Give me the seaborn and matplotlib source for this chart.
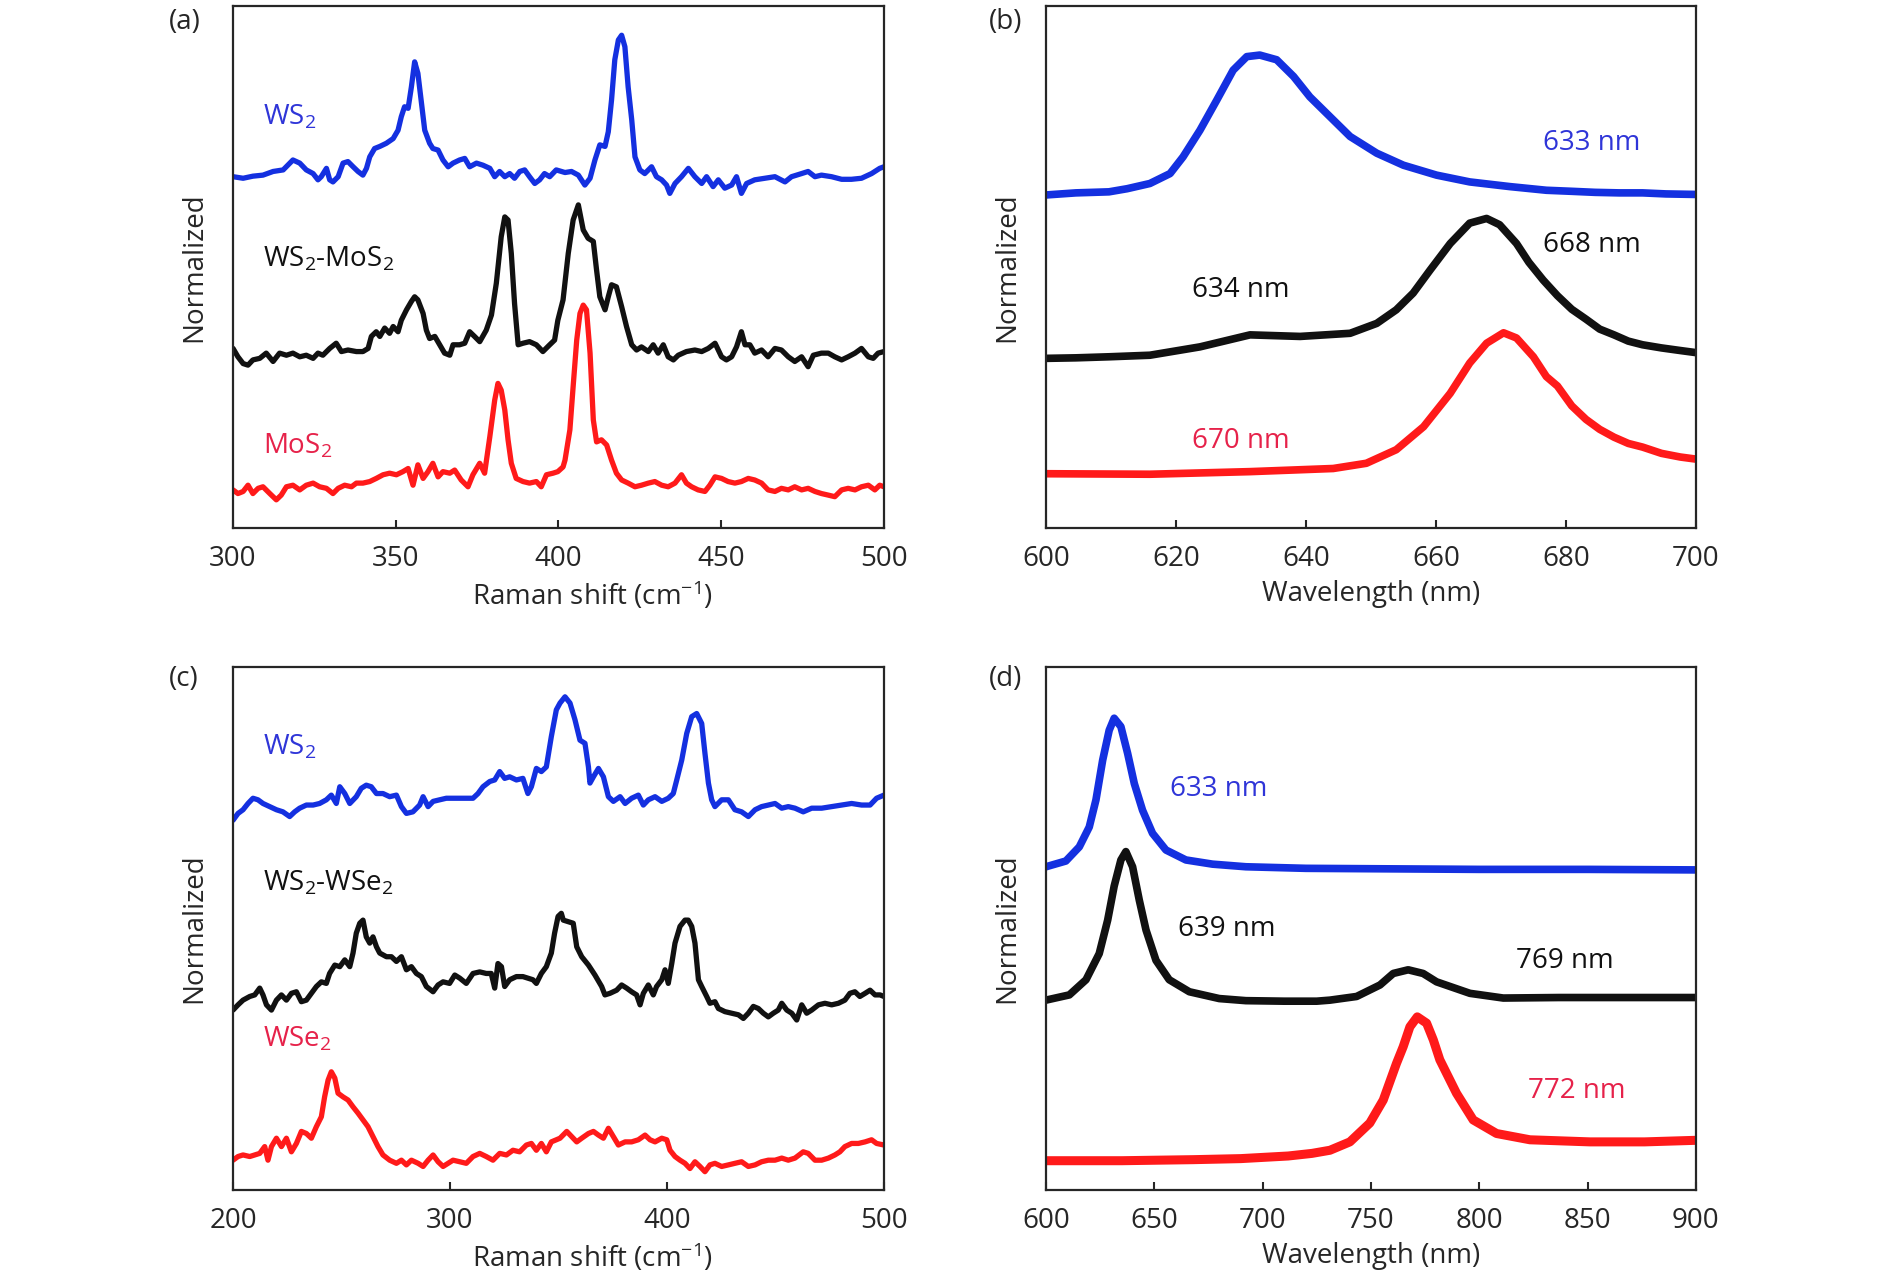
import numpy as np
import pandas as pd
import matplotlib
matplotlib.use('Agg')
import matplotlib.pyplot as plt
import seaborn as sns

# ---- (a) Raman, WS2 / WS2-MoS2 / MoS2  (x: cm-1, y: normalized + offset)
a_ws2 = [(300.0,67.3),(303.1,67.0),(306.1,67.4),(309.2,67.6),(312.3,68.3),(315.4,68.6),(318.4,70.5),(320.5,69.9),(322.5,68.6),(324.6,67.9),(326.1,66.7),(327.1,67.3),(328.7,68.9),(329.7,66.7),(330.7,66.3),(332.3,67.3),(333.8,69.9),(335.3,70.2),(336.9,69.2),(338.4,68.3),(339.9,67.6),(341.0,68.9),(342.0,71.1),(343.5,72.7),(345.1,73.1),(347.1,73.7),(349.2,74.6),(350.7,76.2),(351.7,78.8),(352.7,80.7),(353.8,80.4),(354.8,84.5),(355.8,89.3),(356.8,87.1),(357.9,81.4),(358.9,76.2),(360.4,73.7),(361.4,72.7),(363.0,72.4),(364.5,70.5),(366.1,69.2),(367.6,69.9),(369.6,70.5),(371.2,70.8),(372.7,69.2),(374.8,69.9),(376.8,69.5),(378.9,68.9),(380.4,67.3),(381.9,68.3),(383.5,67.3),(385.0,67.9),(386.5,67.0),(388.1,68.3),(389.6,68.6),(391.1,67.3),(392.7,66.0),(394.2,66.7),(395.7,67.9),(397.3,67.3),(399.3,68.6),(402.0,68.1),(404.0,68.3),(406.1,67.6),(408.1,65.7),(409.7,67.0),(411.2,70.5),(412.7,73.4),(414.3,73.1),(415.3,75.9),(416.3,82.0),(417.3,89.7),(418.4,93.5),(419.4,94.4),(420.4,92.2),(421.4,84.5),(422.5,78.2),(423.5,71.1),(425.0,68.6),(426.5,67.9),(428.6,69.2),(430.1,67.3),(431.7,66.7),(433.2,65.7),(434.2,64.1),(435.8,66.0),(437.8,67.3),(439.9,68.9),(441.9,67.3),(444.0,66.0),(445.5,67.3),(447.5,65.4),(449.1,66.7),(451.1,65.1),(453.2,65.7),(454.7,67.3),(456.2,64.1),(457.8,66.0),(460.3,66.7),(463.4,67.0),(466.5,67.3),(469.6,66.3),(471.6,67.3),(474.7,67.9),(476.7,68.3),(478.8,67.3),(480.8,67.6),(483.9,67.3),(487.0,66.8),(490.0,66.8),(493.1,67.0),(496.2,67.9),(498.7,68.9),(500.0,69.2)]

a_het = [(300.0,34.4),(301.5,32.8),(303.1,31.5),(304.6,31.2),(306.1,32.2),(308.2,32.5),(310.2,33.5),(312.3,31.9),(314.3,33.5),(316.4,33.1),(318.4,33.5),(320.5,32.8),(322.5,33.1),(324.6,32.5),(326.1,33.5),(327.6,33.1),(329.7,34.4),(331.7,35.4),(333.3,33.8),(335.3,34.1),(337.9,33.8),(339.9,33.8),(341.5,34.4),(342.5,36.7),(344.0,37.6),(345.1,36.7),(346.6,38.3),(348.1,37.3),(349.2,38.6),(350.7,37.6),(351.7,39.8),(353.3,41.8),(354.8,43.4),(355.8,44.3),(356.8,43.7),(358.4,41.1),(359.4,37.9),(360.4,36.3),(362.0,36.7),(363.5,35.1),(365.0,33.5),(366.6,33.1),(367.6,35.1),(369.6,35.1),(371.2,35.4),(372.7,37.6),(374.2,36.7),(375.8,35.7),(377.8,37.9),(379.4,40.8),(380.9,46.9),(382.4,55.8),(383.5,59.6),(384.5,59.0),(385.5,52.6),(386.5,43.0),(387.6,35.1),(389.1,35.4),(391.1,35.7),(393.2,35.1),(395.2,33.8),(397.3,35.1),(398.8,36.0),(399.8,39.8),(401.4,43.7),(403.0,52.6),(404.5,59.0),(406.1,61.9),(407.6,57.1),(409.1,55.5),(410.7,54.9),(411.7,49.4),(412.7,44.3),(414.3,41.8),(415.3,44.3),(416.3,46.6),(417.8,46.2),(419.4,42.4),(420.9,38.6),(422.5,35.1),(424.0,34.1),(425.5,34.7),(427.6,33.8),(429.1,35.1),(430.6,33.5),(432.2,35.1),(433.7,32.8),(435.3,32.2),(436.8,33.1),(439.3,33.8),(441.9,34.1),(444.0,33.8),(446.0,34.4),(448.1,35.4),(450.1,32.8),(451.6,32.2),(453.2,32.8),(454.7,34.7),(456.2,37.6),(457.3,35.1),(458.8,35.1),(460.3,33.5),(462.4,34.1),(464.4,32.8),(466.5,34.4),(468.5,34.1),(470.6,32.8),(472.6,31.9),(474.7,32.8),(476.7,30.9),(478.3,33.1),(480.8,33.5),(482.9,33.5),(484.9,32.8),(487.0,32.2),(489.0,32.8),(491.1,33.5),(493.1,34.4),(495.2,32.8),(496.7,32.5),(498.2,33.5),(500.0,33.8)]

a_mos2 = [(300.0,7.3),(301.5,6.6),(303.1,7.0),(304.6,8.2),(306.1,6.6),(307.7,7.6),(309.2,7.9),(311.3,6.6),(313.3,5.4),(314.8,6.3),(316.4,7.9),(318.4,8.2),(320.5,7.3),(322.5,8.2),(324.6,8.6),(326.6,7.9),(328.7,7.6),(330.7,6.6),(332.3,7.6),(334.3,8.2),(336.4,7.9),(337.9,8.6),(339.9,8.6),(342.0,8.9),(344.0,9.5),(346.1,10.2),(348.1,10.5),(350.2,10.2),(352.2,10.8),(353.8,11.4),(355.3,8.2),(356.8,12.1),(358.4,9.5),(359.9,10.8),(361.4,12.4),(363.0,9.8),(364.5,10.8),(366.6,10.5),(368.1,11.1),(370.1,9.2),(372.2,7.9),(373.7,10.2),(375.8,12.4),(377.3,10.5),(378.9,17.5),(380.4,24.5),(381.4,27.7),(382.4,26.4),(383.5,22.6),(384.5,16.9),(385.5,12.4),(387.0,9.5),(389.1,8.9),(391.1,8.6),(393.2,8.9),(394.7,7.9),(396.3,10.2),(398.3,10.5),(399.8,10.8),(401.4,11.7),(402.0,13.0),(403.5,18.8),(404.5,27.1),(405.6,36.0),(406.6,41.1),(407.6,42.7),(408.6,41.8),(409.7,33.5),(410.7,20.7),(411.7,16.5),(413.2,16.9),(414.8,15.9),(416.3,13.0),(417.8,10.5),(419.4,9.2),(421.4,8.6),(423.5,7.9),(425.5,8.2),(427.6,8.6),(429.6,8.9),(431.7,8.2),(433.7,7.9),(435.8,8.6),(437.8,10.2),(439.3,8.6),(440.9,7.9),(442.9,7.3),(445.0,7.0),(446.5,8.2),(448.1,9.8),(450.1,9.5),(452.1,8.9),(454.2,8.6),(456.2,8.9),(458.3,9.5),(460.3,9.2),(462.4,8.6),(464.4,7.3),(466.5,7.0),(468.5,7.6),(470.6,7.3),(472.6,7.9),(474.7,7.3),(476.7,7.6),(478.8,7.0),(480.8,6.6),(482.9,6.3),(484.9,6.0),(487.0,7.3),(489.0,7.6),(491.1,7.3),(493.1,7.9),(495.2,8.2),(497.2,7.3),(498.7,8.2),(500.0,7.9)]

# ---- (b) PL, nm
b_ws2 = [(600.0,63.8),(604.6,64.2),(609.7,64.4),(612.5,65.0),(616.0,66.0),(619.1,67.9),(621.1,71.1),(623.7,76.2),(626.3,82.0),(628.8,87.7),(630.9,90.3),(632.9,90.6),(635.5,89.7),(638.1,86.5),(640.6,82.6),(643.7,78.8),(646.8,75.0),(650.9,71.8),(655.0,69.5),(660.1,67.6),(665.2,66.3),(671.4,65.4),(677.0,64.7),(680.9,64.5),(684.5,64.3),(688.2,64.2),(691.8,64.2),(695.4,64.0),(700.0,63.9)]
b_het = [(600.0,32.5),(604.6,32.6),(609.7,32.8),(616.0,33.1),(623.7,34.7),(631.4,37.0),(639.1,36.7),(646.8,37.3),(650.9,39.2),(653.9,41.8),(656.5,45.0),(659.1,49.4),(662.2,54.5),(665.2,58.4),(667.8,59.3),(669.8,58.1),(672.4,54.5),(674.3,50.9),(676.5,47.5),(678.7,44.5),(680.9,41.9),(683.1,40.0),(685.2,38.1),(687.4,37.0),(689.6,35.8),(691.8,35.1),(694.7,34.5),(697.6,34.0),(700.0,33.6)]
b_mos2 = [(600.0,10.4),(616.0,10.3),(631.4,10.8),(644.2,11.4),(649.3,12.4),(653.9,15.0),(658.1,19.4),(662.2,25.8),(665.2,31.6),(667.8,35.4),(670.4,37.4),(672.4,36.4),(675.0,32.8),(677.0,29.0),(678.7,27.2),(680.9,23.4),(683.1,20.8),(685.2,18.9),(687.4,17.4),(689.6,16.2),(691.8,15.5),(694.7,14.3),(697.6,13.6),(700.0,13.2)]

# ---- (c) Raman, WS2 / WS2-WSe2 / WSe2
c_ws2 = [(200.0,70.7),(202.3,72.0),(204.6,72.7),(206.9,73.9),(209.2,74.9),(211.5,74.6),(213.8,73.9),(216.9,73.3),(220.0,72.7),(223.0,72.3),(226.1,71.4),(228.4,72.3),(230.7,73.0),(233.8,73.6),(236.9,73.6),(239.9,73.9),(243.0,74.6),(245.3,75.5),(247.6,73.9),(249.2,77.1),(251.5,75.8),(253.8,73.9),(256.8,75.2),(259.1,76.8),(261.4,77.4),(263.7,77.1),(266.1,75.8),(269.1,75.8),(272.2,75.2),(275.3,75.5),(277.6,73.3),(279.9,72.0),(282.9,72.3),(286.0,73.6),(287.6,75.2),(289.9,73.3),(292.2,74.3),(295.2,74.6),(298.3,74.9),(301.4,74.9),(304.5,74.9),(307.5,74.9),(310.6,74.9),(312.9,75.8),(315.2,77.1),(318.3,78.1),(320.6,78.4),(322.9,80.0),(325.2,78.7),(327.5,79.0),(330.6,78.4),(333.6,78.7),(335.9,75.8),(337.5,77.1),(339.8,80.6),(342.1,80.0),(344.4,80.9),(346.7,86.7),(349.0,91.8),(350.7,93.1),(353.0,94.3),(355.3,93.1),(357.6,89.9),(359.9,86.0),(362.2,85.4),(363.8,80.9),(364.5,77.8),(366.1,79.0),(368.4,80.6),(370.7,79.0),(373.0,75.2),(375.3,74.3),(378.4,75.2),(380.7,73.9),(383.7,74.9),(386.8,75.5),(389.1,73.6),(391.4,74.6),(394.5,75.2),(397.6,74.3),(400.6,74.9),(402.9,75.8),(404.5,78.4),(406.8,82.2),(409.1,87.3),(411.4,90.5),(413.7,91.1),(416.0,89.2),(417.5,83.5),(419.1,77.8),(420.6,74.6),(422.1,73.3),(425.2,74.6),(428.3,74.6),(431.3,72.7),(434.4,72.3),(437.5,71.4),(440.6,72.7),(443.6,73.3),(446.7,73.6),(449.8,73.9),(452.9,73.0),(455.9,73.3),(459.0,73.0),(462.8,72.3),(466.7,73.0),(471.3,73.0),(475.9,73.3),(480.5,73.6),(485.1,73.9),(489.7,73.6),(493.6,73.6),(496.6,74.9),(500.0,75.5)]

c_het = [(200.0,34.4),(202.3,35.4),(204.6,36.3),(207.7,37.0),(210.0,37.3),(212.3,38.6),(213.8,37.3),(215.4,35.4),(217.7,34.4),(220.0,36.3),(222.3,37.3),(224.6,36.3),(226.9,37.6),(229.2,37.9),(231.5,36.0),(233.8,36.3),(236.1,37.6),(238.4,38.9),(240.7,39.8),(243.0,39.5),(244.5,41.4),(246.9,43.0),(249.2,42.7),(251.5,44.0),(253.8,42.7),(255.3,45.3),(256.8,49.1),(258.4,51.0),(259.9,51.6),(261.4,48.4),(263.0,47.2),(264.5,48.4),(266.1,46.5),(267.6,45.3),(270.7,44.6),(273.0,44.6),(275.3,43.7),(277.6,44.6),(279.9,42.1),(282.2,42.7),(284.5,41.4),(286.8,40.8),(289.1,38.9),(292.2,37.9),(294.5,39.2),(296.8,39.8),(299.8,39.5),(302.2,41.1),(304.5,40.5),(307.5,39.5),(310.6,41.4),(313.7,41.7),(316.7,41.4),(319.0,41.4),(320.6,38.6),(322.1,43.3),(323.7,42.7),(325.2,38.9),(327.5,40.2),(330.6,40.8),(333.6,40.8),(335.9,40.5),(338.2,40.2),(339.8,39.5),(342.1,41.4),(344.4,42.7),(346.7,45.3),(348.2,49.1),(349.8,52.3),(351.3,52.9),(352.2,51.6),(354.5,51.3),(356.8,51.0),(358.4,46.5),(360.7,44.6),(363.8,43.0),(366.8,41.1),(369.9,38.9),(371.4,37.3),(373.7,37.6),(376.8,38.2),(379.1,39.2),(381.4,38.6),(383.7,37.9),(386.0,37.3),(387.6,35.4),(389.1,37.6),(391.4,39.2),(393.7,37.3),(395.2,38.9),(397.6,40.2),(399.1,42.1),(400.6,39.5),(402.2,43.3),(403.7,47.2),(406.0,50.4),(408.3,51.6),(409.8,51.6),(411.4,50.4),(412.9,47.2),(414.5,40.2),(416.0,38.9),(418.3,37.0),(419.8,35.7),(422.1,36.0),(423.7,34.7),(426.7,34.1),(429.8,33.8),(432.9,33.5),(435.2,32.8),(437.5,33.8),(439.8,35.1),(442.1,34.7),(444.4,33.8),(446.7,33.1),(449.0,33.8),(451.3,34.4),(452.9,35.7),(455.2,34.4),(457.5,33.8),(459.8,32.5),(462.1,35.4),(464.4,33.8),(466.7,34.4),(469.8,35.4),(472.8,35.7),(475.9,35.4),(479.0,35.7),(482.0,36.3),(484.3,37.6),(486.6,37.9),(488.9,37.0),(491.3,37.6),(493.6,38.2),(495.9,37.3),(498.2,37.3),(500.0,37.0)]

c_wse2 = [(200.0,5.7),(202.3,6.4),(204.6,6.7),(207.7,6.4),(210.0,6.7),(212.3,7.0),(214.6,8.3),(216.1,5.7),(217.7,8.3),(220.0,9.9),(222.3,8.3),(224.6,9.9),(226.9,7.3),(229.2,8.9),(231.5,11.2),(233.8,10.8),(236.1,9.9),(238.4,12.1),(240.7,14.0),(242.2,17.8),(243.8,21.0),(245.3,22.6),(246.9,21.4),(248.4,18.5),(250.7,17.8),(253.0,17.2),(255.3,15.9),(257.6,14.7),(259.9,13.4),(262.2,12.1),(264.5,10.2),(266.8,8.3),(269.1,6.7),(272.2,5.7),(275.3,5.1),(277.6,5.7),(279.9,4.8),(282.2,5.7),(285.3,5.1),(287.6,4.5),(289.9,5.7),(292.2,6.7),(294.5,5.4),(296.8,4.5),(299.1,5.1),(301.4,5.7),(304.5,5.4),(307.5,5.1),(310.6,6.4),(313.7,7.0),(316.7,6.4),(319.8,5.7),(322.9,7.0),(326.0,6.7),(329.0,7.6),(332.1,7.3),(335.2,8.6),(337.5,8.9),(339.8,7.6),(342.1,8.9),(344.4,7.3),(346.7,9.2),(349.0,9.6),(350.7,9.9),(353.8,11.2),(356.1,10.2),(358.4,9.2),(360.7,9.9),(363.8,10.8),(366.1,11.2),(368.4,10.5),(370.7,9.9),(373.0,11.8),(375.3,10.2),(377.6,8.6),(380.7,9.2),(383.7,9.2),(386.8,9.6),(389.9,10.5),(392.2,9.6),(394.5,9.2),(397.6,9.9),(399.9,9.6),(401.4,7.6),(403.7,6.4),(406.0,5.7),(408.3,5.1),(410.6,4.1),(412.9,5.4),(415.2,4.5),(417.5,3.5),(419.8,4.8),(422.1,5.1),(425.2,4.5),(428.3,4.8),(431.3,5.1),(434.4,5.4),(437.5,4.5),(440.6,4.8),(443.6,5.4),(446.7,5.7),(449.8,5.7),(452.9,6.1),(455.9,5.7),(459.0,6.1),(462.8,7.3),(465.1,7.0),(468.2,5.7),(471.3,5.7),(474.4,6.1),(477.4,6.7),(479.7,7.3),(482.0,8.3),(485.1,8.9),(488.2,8.9),(491.3,9.2),(494.3,9.6),(496.6,8.9),(500.0,8.6)]

# ---- (d) PL, nm
d_ws2 = [(600.0,61.8),(609.2,62.9),(615.4,65.6),(620.0,69.4),(623.1,74.6),(626.2,82.2),(629.2,87.9),(631.5,90.2),(634.6,88.6),(637.7,83.5),(640.8,77.7),(644.6,72.6),(649.2,68.2),(655.4,65.0),(664.6,63.1),(676.9,62.3),(692.3,61.8),(720.0,61.5),(760.0,61.4),(800.0,61.3),(850.0,61.3),(900.0,61.2)]
d_het = [(600.0,36.3),(610.8,37.3),(618.5,40.2),(624.6,45.2),(628.5,51.6),(631.5,58.1),(634.6,63.1),(636.9,64.7),(640.0,61.8),(643.1,55.4),(646.2,49.7),(650.8,43.9),(656.9,40.2),(666.2,37.9),(680.0,36.6),(692.3,36.2),(710.0,36.1),(725.0,36.1),(731.1,36.3),(743.4,37.0),(754.2,39.2),(760.3,41.4),(767.2,42.1),(774.1,41.4),(780.3,39.8),(795.7,37.6),(811.1,36.7),(837.0,36.8),(870.0,36.8),(900.0,36.8)]
d_wse2 = [(600.0,5.6),(635.1,5.6),(668.0,5.8),(689.9,6.0),(711.8,6.5),(722.8,7.0),(731.1,7.6),(740.3,9.2),(749.5,12.8),(755.7,17.2),(761.8,24.2),(764.9,27.4),(768.0,31.2),(771.4,33.1),(775.7,31.9),(778.8,28.7),(781.8,24.9),(789.5,18.5),(797.2,13.4),(808.0,10.8),(823.4,9.6),(851.1,9.2),(876.3,9.2),(900.0,9.5)]

raman_label = r'Raman shift (cm$^{-1}$)'
pl_label = 'Wavelength (nm)'

sns.set_style('ticks')
plt.rcParams['font.family'] = ['Open Sans', 'DejaVu Sans']
plt.rcParams['mathtext.fontset'] = 'custom'
plt.rcParams['mathtext.rm'] = 'Open Sans'
plt.rcParams['mathtext.it'] = 'Open Sans'
plt.rcParams['axes.linewidth'] = 1.6

BLUE = '#1430e0'
RED = '#ff1a1a'
BLACK = '#111111'
TBLUE = '#2f35d8'
TRED = '#e6224a'

FS = 20


def draw(ax, pts, color, lw):
    df = pd.DataFrame(pts, columns=['x', 'y'])
    sns.lineplot(data=df, x='x', y='y', ax=ax, color=color, lw=lw,
                 estimator=None, sort=False, solid_joinstyle='round')


def style(ax, xlim, xticks, xlabel, xlab_pos=0.5):
    ax.set_xlim(*xlim)
    ax.set_ylim(0, 100)
    ax.set_xticks(xticks)
    ax.set_yticks([])
    ax.set_xlabel(xlabel, fontsize=FS, labelpad=5, x=xlab_pos)
    ax.set_ylabel('Normalized', fontsize=FS, labelpad=18)
    ax.tick_params(axis='x', direction='in', length=6, width=1.5,
                   labelsize=FS, pad=12, top=False)
    for s in ax.spines.values():
        s.set_visible(True)
        s.set_linewidth(1.6)


fig = plt.figure(figsize=(18.9, 12.76), dpi=100)
ax_a = fig.add_axes([0.1233, 0.5862, 0.3444, 0.4091])
ax_b = fig.add_axes([0.5534, 0.5862, 0.3439, 0.4091])
ax_c = fig.add_axes([0.1233, 0.0674, 0.3444, 0.4099])
ax_d = fig.add_axes([0.5534, 0.0674, 0.3439, 0.4099])

RLW = 3.8
PLW = 5.5

# (a)
draw(ax_a, a_ws2, BLUE, RLW)
draw(ax_a, a_het, BLACK, RLW)
draw(ax_a, a_mos2, RED, RLW)
style(ax_a, (300, 500), [300, 350, 400, 450, 500], raman_label, 0.553)
ax_a.text(309.2, 78.7, r'WS$_2$', color=TBLUE, fontsize=FS, va='center')
ax_a.text(309.2, 51.5, r'WS$_2$-MoS$_2$', color=BLACK, fontsize=FS, va='center')
ax_a.text(309.2, 15.7, r'MoS$_2$', color=TRED, fontsize=FS, va='center')

# (b)
draw(ax_b, b_ws2, BLUE, PLW)
draw(ax_b, b_het, BLACK, PLW)
draw(ax_b, b_mos2, RED, PLW)
style(ax_b, (600, 700), [600, 620, 640, 660, 680, 700], pl_label)
ax_b.text(676.5, 73.7, '633 nm', color=TBLUE, fontsize=FS, va='center')
ax_b.text(676.5, 54.2, '668 nm', color=BLACK, fontsize=FS, va='center')
ax_b.text(622.5, 45.5, '634 nm', color=BLACK, fontsize=FS, va='center')
ax_b.text(622.5, 16.7, '670 nm', color=TRED, fontsize=FS, va='center')

# (c)
draw(ax_c, c_ws2, BLUE, RLW)
draw(ax_c, c_het, BLACK, RLW)
draw(ax_c, c_wse2, RED, RLW)
style(ax_c, (200, 500), [200, 300, 400, 500], raman_label, 0.553)
ax_c.text(213.8, 84.7, r'WS$_2$', color=TBLUE, fontsize=FS, va='center')
ax_c.text(213.8, 58.6, r'WS$_2$-WSe$_2$', color=BLACK, fontsize=FS, va='center')
ax_c.text(213.8, 28.9, r'WSe$_2$', color=TRED, fontsize=FS, va='center')

# (d)
draw(ax_d, d_ws2, BLUE, PLW)
draw(ax_d, d_het, BLACK, PLW)
draw(ax_d, d_wse2, RED, PLW + 1)
style(ax_d, (600, 900), [600, 650, 700, 750, 800, 850, 900], pl_label)
ax_d.text(657.2, 76.6, '633 nm', color=TBLUE, fontsize=FS, va='center')
ax_d.text(660.9, 49.9, '639 nm', color=BLACK, fontsize=FS, va='center')
ax_d.text(816.9, 43.8, '769 nm', color=BLACK, fontsize=FS, va='center')
ax_d.text(822.5, 18.9, '772 nm', color=TRED, fontsize=FS, va='center')

for lab, x, y in [('(a)', 0.0894, 0.983), ('(b)', 0.523, 0.983),
                  ('(c)', 0.0894, 0.468), ('(d)', 0.523, 0.468)]:
    fig.text(x, y, lab, fontsize=FS, va='center', ha='left')

fig.savefig('out.png', dpi=100, facecolor='white')
